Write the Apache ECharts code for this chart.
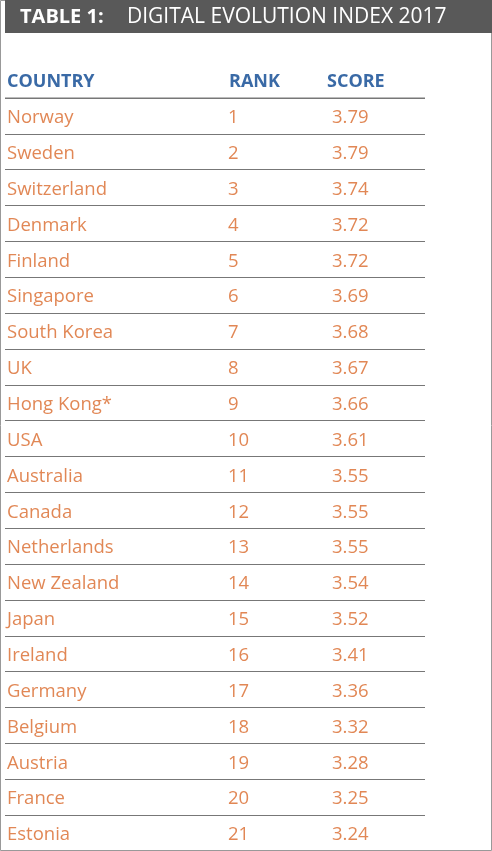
<!DOCTYPE html><html><head><meta charset="utf-8">
<script src="https://cdn.jsdelivr.net/npm/echarts@6/dist/echarts.min.js"></script>
<style>html,body{margin:0;padding:0;background:#fff}#c{width:492px;height:851px}</style></head><body><div id="c"></div>
<script>
const countries=["Norway","Sweden","Switzerland","Denmark","Finland","Singapore","South Korea","UK","Hong Kong*","USA","Australia","Canada","Netherlands","New Zealand","Japan","Ireland","Germany","Belgium","Austria","France","Estonia"];
const ranks=[1,2,3,4,5,6,7,8,9,10,11,12,13,14,15,16,17,18,19,20,21];
const scores=["3.79","3.79","3.74","3.72","3.72","3.69","3.68","3.67","3.66","3.61","3.55","3.55","3.55","3.54","3.52","3.41","3.36","3.32","3.28","3.25","3.24"];
const headers=["COUNTRY","RANK","SCORE"];
const FONT='"Open Sans", Lato, sans-serif';
const ORANGE='#d9692b', BLUE='#3a6aa6';
const ch=echarts.init(document.getElementById('c'));
function col(x,vals){return {type:'scatter',symbolSize:0,silent:true,data:vals.map((v,i)=>[x,countries[i],v]),
 label:{show:true,position:'right',distance:0,offset:[0,2],formatter:p=>String(p.data[2]),color:ORANGE,fontFamily:FONT,fontSize:18.5}};}
ch.setOption({animation:false,
 grid:{left:5,width:420,top:98,height:754},
 xAxis:{type:'value',min:0,max:420,show:false},
 yAxis:{type:'category',inverse:true,data:countries,axisLine:{show:false},axisTick:{show:false},axisLabel:{show:false},
  splitLine:{show:true,lineStyle:{color:'#777',width:1}}},
 graphic:[
  {type:'rect',shape:{x:0.5,y:0.5,width:491,height:850},style:{fill:null,stroke:'#999',lineWidth:1}},
  {type:'rect',shape:{x:5,y:0,width:487,height:33},style:{fill:'#595959'}},
  {type:'text',x:20,y:17,style:{text:'TABLE 1:',fill:'#fff',font:'bold 20px '+FONT,verticalAlign:'middle'}},
  {type:'text',x:127,y:17,style:{text:'DIGITAL EVOLUTION INDEX 2017',fill:'#fff',font:'21px '+FONT,verticalAlign:'middle'}},
  {type:'text',x:7,y:82,style:{text:headers[0],fill:BLUE,font:'bold 18px '+FONT,verticalAlign:'middle'}},
  {type:'text',x:229,y:82,style:{text:headers[1],fill:BLUE,font:'bold 18px '+FONT,verticalAlign:'middle'}},
  {type:'text',x:327,y:82,style:{text:headers[2],fill:BLUE,font:'bold 18px '+FONT,verticalAlign:'middle'}},
  {type:'line',shape:{x1:5,y1:98,x2:425,y2:98},style:{stroke:'#777',lineWidth:1}}
 ],
 series:[col(2,countries),col(223,ranks),col(327,scores)]
});
</script></body></html>
